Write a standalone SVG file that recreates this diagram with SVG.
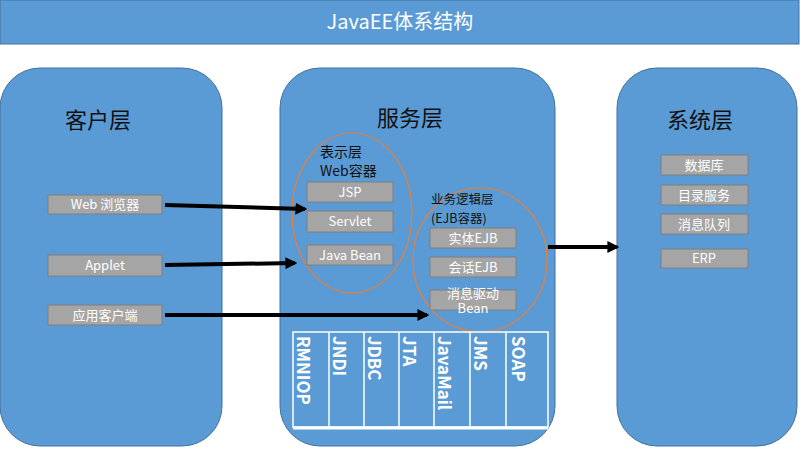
<svg xmlns="http://www.w3.org/2000/svg" width="800" height="450" viewBox="0 0 800 450">
<defs>
<marker id="ah" viewBox="0 0 10 10" refX="8" refY="5" markerWidth="3" markerHeight="3" orient="auto"><path d="M0,0 L10,5 L0,10 z" fill="#000"/></marker>
</defs>
<style>
text{font-family:"Noto Sans CJK SC","Noto Sans",sans-serif}
.panel{fill:#5b9bd5;stroke:#41719c;stroke-width:1}
.box{fill:#a5a5a5;stroke:#7f7f7f;stroke-width:1}
.bt{fill:#fff;font-size:13px;text-anchor:middle}
.h{fill:#111;font-size:22px;text-anchor:middle}
.ell{fill:none;stroke:#ed7d31;stroke-width:1.2}
.vt{fill:#fff;font-size:17px;font-weight:bold}
.arr{stroke:#000;stroke-width:4;marker-end:url(#ah)}
.tb{fill:none;stroke:#fff;stroke-width:1.5}
</style>
<rect width="800" height="450" fill="#fff"/>
<g id="title"><rect x="0" y="0" width="799" height="44" class="panel"/><text x="400" y="29" fill="#fff" font-size="20" text-anchor="middle">JavaEE体系结构</text></g>
<g id="client"><rect x="0" y="68" width="222" height="378" rx="40" class="panel"/><text x="98" y="128" class="h">客户层</text>
<rect x="48" y="195" width="114" height="19" class="box"/><text x="105" y="209" class="bt">Web 浏览器</text>
<rect x="48" y="255" width="114" height="21" class="box"/><text x="105" y="270" class="bt">Applet</text>
<rect x="48" y="305" width="114" height="20" class="box"/><text x="105" y="320" class="bt">应用客户端</text></g>
<g id="service"><rect x="280" y="68" width="275" height="378" rx="40" class="panel"/><text x="410" y="126" class="h">服务层</text>
<ellipse cx="352" cy="213" rx="60" ry="80" class="ell"/>
<text x="320" y="157" font-size="14" fill="#111">表示层</text><text x="320" y="176" font-size="14" fill="#111">Web容器</text>
<rect x="307" y="182" width="86" height="20" class="box"/><text x="350" y="197" class="bt">JSP</text>
<rect x="307" y="211" width="86" height="21" class="box"/><text x="350" y="226" class="bt">Servlet</text>
<rect x="307" y="245" width="86" height="20" class="box"/><text x="350" y="260" class="bt">Java Bean</text>
<ellipse cx="480" cy="260" rx="67" ry="72" class="ell"/>
<text x="431" y="204" font-size="12.5" fill="#111">业务逻辑层</text><text x="431" y="223" font-size="12.5" fill="#111">(EJB容器)</text>
<rect x="430" y="228" width="86" height="20" class="box"/><text x="473" y="243" class="bt">实体EJB</text>
<rect x="430" y="257" width="86" height="20" class="box"/><text x="473" y="272" class="bt">会话EJB</text>
<rect x="430" y="290" width="86" height="20" class="box"/><text x="473" y="298" class="bt" font-size="9.5">消息驱动</text><text x="473" y="313" class="bt" font-size="8.5">Bean</text>
<rect x="293" y="332" width="255" height="95" class="tb"/>
<path d="M329,332V427M364,332V427M399,332V427M434,332V427M470,332V427M506,332V427" class="tb"/>
<line x1="293" y1="428" x2="548" y2="428" stroke="#fff" stroke-width="3"/>
<g class="vt">
<text transform="translate(297,336) rotate(90)">RMNIOP</text>
<text transform="translate(333,336) rotate(90)">JNDI</text>
<text transform="translate(368,336) rotate(90)">JDBC</text>
<text transform="translate(403,336) rotate(90)">JTA</text>
<text transform="translate(438,336) rotate(90)">JavaMail</text>
<text transform="translate(474,336) rotate(90)">JMS</text>
<text transform="translate(512,336) rotate(90)">SOAP</text>
</g></g>
<g id="system"><rect x="617" y="68" width="180" height="378" rx="40" class="panel"/><text x="700" y="128" class="h">系统层</text>
<rect x="661" y="155" width="87" height="20" class="box"/><text x="704" y="170" class="bt" font-size="14">数据库</text>
<rect x="661" y="185" width="87" height="20" class="box"/><text x="704" y="200" class="bt" font-size="14">目录服务</text>
<rect x="661" y="214" width="87" height="20" class="box"/><text x="704" y="229" class="bt" font-size="14">消息队列</text>
<rect x="661" y="249" width="87" height="19" class="box"/><text x="704" y="263" class="bt">ERP</text></g>
<g id="connectors">
<line x1="165" y1="205" x2="305" y2="209" class="arr"/>
<line x1="165" y1="265" x2="295" y2="263" class="arr"/>
<line x1="165" y1="315" x2="427" y2="315" class="arr"/>
<line x1="548" y1="247" x2="617" y2="247" class="arr"/>
</g>
</svg>
